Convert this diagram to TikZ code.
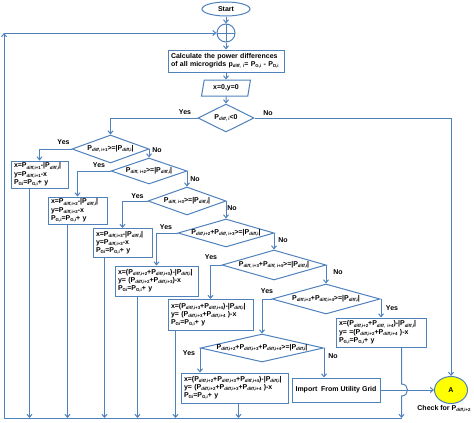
\documentclass[tikz,border=0pt]{standalone}
\usepackage{fontspec}
\setmainfont{Liberation Sans}
\usetikzlibrary{shapes.geometric,arrows.meta,calc}
\definecolor{lc}{RGB}{79,129,189}
\definecolor{ay}{RGB}{255,255,0}
\newcommand\sbs[1]{\raisebox{-1.1pt}{\fontsize{4.4}{5}\selectfont #1}}
\newcommand\Pd[1]{P\sbs{\textit{diff},#1}}
\newcommand\Ln[1]{\mbox{#1}}
\begin{document}
\begin{tikzpicture}[x=1pt,y=-1pt,
  every node/.style={font=\fontsize{7}{8.2}\selectfont\bfseries, text=black},
  ln/.style={draw=lc, line width=1pt},
  arr/.style={ln, -{Straight Barb[length=3pt,width=5pt]}},
  dec/.style 2 args={diamond, draw=lc, line width=1pt, fill=white, inner sep=0pt, minimum width=#1pt, minimum height=#2pt},
  bx/.style 2 args={draw=lc, line width=1pt, fill=white, align=left, inner xsep=3pt, inner ysep=0pt, text width=#1pt, minimum height=#2pt},
  lbl/.style={inner sep=0pt}]
\useasboundingbox (0,0) rectangle (474,423);

% top chain
\node[ellipse, draw=lc, line width=1pt, minimum width=48pt, minimum height=14pt, inner sep=0pt] (start) at (226,9) {Start};
\node[circle, draw=lc, line width=1pt, minimum size=18pt, inner sep=0pt,
  path picture={\draw[lc, line width=1pt] (path picture bounding box.north) -- (path picture bounding box.south) (path picture bounding box.west) -- (path picture bounding box.east);}] (sum) at (226,33) {};
\node[bx={110}{22}] (calc) at (226,61) {\Ln{Calculate the power differences}\\\Ln{of all microgrids p\sbs{\textit{diff}, i}= P\sbs{G,i} - P\sbs{D,i}}};
\node[trapezium, trapezium left angle=76, trapezium right angle=104, trapezium stretches=true, minimum width=49pt, minimum height=16pt, inner sep=0pt, draw=lc, line width=1pt] (init) at (226,88) {x=0,y=0};

% decisions
\node[dec={56}{28}, label=center:{P\sbs{\textit{diff}, i}<0}] (d1) at (226,118) {};
\node[dec={77}{28}, label=center:{\Pd{ i+1}>=|\Pd{i}|}] (d2) at (110.5,149) {};
\node[dec={76}{26}, label=center:{\Pd{ i+2}>=|\Pd{i}|}] (d3) at (149,171) {};
\node[dec={78}{28}, label=center:{\Pd{ i+3}>=|\Pd{i}|}] (d4) at (187,201) {};
\node[dec={96}{28}, label=center:{\Pd{i+2}+\Pd{ i+3}>=|\Pd{i}|}] (d5) at (226,233) {};
\node[dec={104}{30}, label=center:{\Pd{ i+3}+\Pd{ i+4}>=|\Pd{i}|}] (d6) at (274,265) {};
\node[dec={108}{30}, label=center:{\Pd{i+2}+\Pd{i+4}>=|\Pd{i}|}] (d7) at (326,299) {};
\node[dec={123}{28}, label=center:{\Pd{i+2}+\Pd{i+3}+\Pd{i+4}>=|\Pd{i}|}] (d8) at (262,348) {};

% process boxes
\node[bx={51}{27}] (b1) at (39.5,174.5) {\Ln{x=\Pd{i+1}-|\Pd{i}|}\\\Ln{y=\Pd{i+1}-x}\\\Ln{P\sbs{Gi}=P\sbs{G,i}+ y}};
\node[bx={53}{27}] (b2) at (77.5,210.5) {\Ln{x=\Pd{i+2}-|\Pd{i}|}\\\Ln{y=\Pd{i+2}-x}\\\Ln{P\sbs{G,i}=P\sbs{G,i}+ y}};
\node[bx={53}{29}] (b3) at (122.5,243) {\Ln{x=\Pd{i+3}-|\Pd{i}|}\\\Ln{y=\Pd{i+3}-x}\\\Ln{P\sbs{Gi}=P\sbs{G,i}+ y}};
\node[bx={77}{30}] (b4) at (156.5,281) {\Ln{x=(\Pd{i+2}+\Pd{i+3})-|\Pd{i}|}\\\Ln{y= (\Pd{i+2}+\Pd{i+3})-x}\\\Ln{P\sbs{Gi}=P\sbs{G,i}+ y}};
\node[bx={79}{31}] (b5) at (210.5,315) {\Ln{x=(\Pd{i+3}+\Pd{i+4})-|\Pd{i}|}\\\Ln{y= (\Pd{i+3}+\Pd{i+4} )-x}\\\Ln{P\sbs{Gi}=P\sbs{G,i}+ y}};
\node[bx={84}{29}] (b6) at (381,332.5) {\Ln{x=(\Pd{i+2}+\Pd{ i+4})-|\Pd{i}|}\\\Ln{y= =(\Pd{i+2}+\Pd{i+4} )-x}\\\Ln{P\sbs{G,i}=P\sbs{G,i}+ y}};
\node[bx={101}{30}] (b7) at (234.5,388) {\Ln{x=(\Pd{i+2}+\Pd{i+3}+\Pd{i+4})-|\Pd{i}|}\\\Ln{y= (\Pd{i+2}+\Pd{i+3}+\Pd{i+4} )-x}\\\Ln{P\sbs{Gi}=P\sbs{G,i}+ y}};
\node[draw=lc, line width=1pt, minimum width=88pt, minimum height=24pt, inner sep=1pt] (imp) at (336,390) {Import~ From Utility Grid};

% connector A
\node[ellipse, draw=lc, line width=1pt, fill=ay, minimum width=33pt, minimum height=27pt, inner sep=0pt] (A) at (451,390) {A};
\node[lbl] (chk) at (444,409) {Check for \Pd{i+2}};

% yes / no labels
\node[lbl] (y1) at (185,112) {Yes};
\node[lbl] (n1) at (268,113) {No};
\node[lbl] (y2) at (63.5,142) {Yes};
\node[lbl] (n2) at (157,150) {No};
\node[lbl] (y3) at (99,165) {Yes};
\node[lbl] (n3) at (195,179) {No};
\node[lbl] (y4) at (137.5,196) {Yes};
\node[lbl] (n4) at (232,208) {No};
\node[lbl] (y5) at (166,227) {Yes};
\node[lbl] (n5) at (283,240) {No};
\node[lbl] (y6) at (211,257) {Yes};
\node[lbl] (n6) at (338,272) {No};
\node[lbl] (y7) at (267,291) {Yes};
\node[lbl] (y7b) at (392,308) {Yes};
\node[lbl] (y8) at (189,353) {Yes};
\node[lbl] (n8) at (333,356) {No};

% main flow
\draw[arr] (start) -- (sum);
\draw[arr] (sum) -- (calc);
\draw[arr] (calc) -- (init);
\draw[arr] (init) -- (d1);
\draw[arr] (d1.west) -| (d2.north);
\draw[arr] (d1.east) -| (A.north);
\draw[arr] (d2.west) -| (b1.north);
\draw[arr] (d2.east) -| (d3.north);
\draw[arr] (d3.west) -| (b2.north);
\draw[arr] (d3.east) -| (d4.north);
\draw[arr] (d4.west) -| (b3.north);
\draw[arr] (d4.east) -| (d5.north);
\draw[arr] (d5.west) -| (b4.north);
\draw[arr] (d5.east) -| (d6.north);
\draw[arr] (d6.west) -| (b5.north);
\draw[arr] (d6.east) -| (d7.north);
\draw[arr] (d7.west) -| (d8.north);
\draw[arr] (d7.east) -| (b6.north);
\draw[arr] (d8.west) -- (d8.west |- b7.north);
\draw[arr] (d8.east) -- (d8.east |- imp.north);
\draw[arr] (imp) -- (A);

% return bus
\coordinate (bl) at (4,418);
\coordinate (tl) at (bl |- sum.west);
\coordinate (b1o) at ($(b1.south west)+(19,0)$);
\coordinate (b2o) at ($(b2.south west)+(20,0)$);
\coordinate (b3o) at ($(b3.south west)+(12,0)$);
\coordinate (b4o) at ($(b4.south west)+(23,0)$);
\coordinate (b5o) at ($(b5.south west)+(8,0)$);
\coordinate (b7o) at ($(b7.south west)+(58,0)$);
\coordinate (b6o) at ($(b6.south west)+(66,0)$);
\coordinate (hop) at (b6o |- imp.east);
\draw[arr] (b1o) -- (b1o |- bl);
\draw[arr] (b2o) -- (b2o |- bl);
\draw[arr] (b3o) -- (b3o |- bl);
\draw[arr] (b4o) -- (b4o |- bl);
\draw[arr] (b5o) -- (b5o |- bl);
\draw[arr] (b7o) -- (b7o |- bl);
\draw[arr] (b6o) -- ($(hop)+(0,-6)$) .. controls ($(hop)+(8,-6)$) and ($(hop)+(8,6)$) .. ($(hop)+(0,6)$) -- (b6o |- bl);
\draw[ln] (b6o |- bl) -- (bl);
\draw[arr] (bl) -- (tl);
\draw[arr] (tl) -- (sum.west);
\end{tikzpicture}
\end{document}
